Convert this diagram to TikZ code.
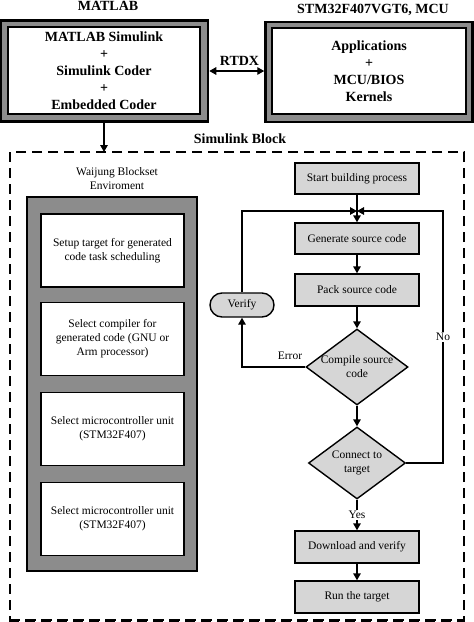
\documentclass[tikz,border=0pt]{standalone}
\usepackage{fontspec}
\setmainfont{Liberation Serif}
\usetikzlibrary{arrows.meta,shapes.geometric}
\definecolor{framegray}{HTML}{8C8C8C}
\definecolor{flowgray}{HTML}{D6D6D6}
\tikzset{
  outerframe/.style={draw=black, line width=2.5pt, fill=framegray, inner sep=0pt},
  innerbox/.style={draw=black, line width=1.4pt, fill=white, align=center, inner sep=0pt,
    font=\bfseries\fontsize{14}{17}\selectfont},
  titletext/.style={font=\bfseries\fontsize{14}{17}\selectfont, inner sep=0pt},
  smalltext/.style={font=\fontsize{11.5}{14}\selectfont, align=center},
  panelbox/.style={draw=black, line width=1.4pt, fill=white, align=center,
    minimum width=143pt, minimum height=73pt, inner sep=0pt, font=\fontsize{11.5}{14}\selectfont},
  flowbox/.style={draw=black, line width=1.4pt, fill=flowgray, align=center,
    minimum width=124pt, minimum height=31pt, inner sep=0pt, font=\fontsize{11.5}{14}\selectfont},
  flowdiamond/.style={draw=black, line width=1.4pt, fill=flowgray, diamond, inner sep=0pt},
  conn/.style={line width=1.4pt, -{Triangle[length=7pt,width=7.5pt]}},
  plainconn/.style={line width=1.4pt},
}
\begin{document}
\begin{tikzpicture}[x=1pt,y=-1pt]
\useasboundingbox (0,0) rectangle (474,622);

% top titles
\node[titletext, anchor=base] (matlabtitle) at (108,10.5) {MATLAB};
\node[titletext, anchor=base] (stmtitle) at (373,13) {STM32F407VGT6, MCU};

% top boxes
\node[outerframe, minimum width=207pt, minimum height=101pt] (matlabouter) at (104.5,71) {};
\node[innerbox, minimum width=192pt, minimum height=87pt] (matlabinner) at (104,70.5)
  {MATLAB Simulink\\+\\Simulink Coder\\+\\Embedded Coder};
\node[outerframe, minimum width=207pt, minimum height=100pt] (stmouter) at (369,72) {};
\node[innerbox, minimum width=194pt, minimum height=86pt] (stminner) at (369,71)
  {Applications\\+\\MCU/BIOS\\Kernels};

% RTDX
\node[titletext, anchor=base] (rtdx) at (239.5,65) {RTDX};
\draw[line width=1.4pt, {Triangle[length=7pt,width=7.5pt]}-{Triangle[length=7pt,width=7.5pt]}]
  (matlabouter.east |- 0,71) -- (stmouter.west |- 0,71);

% Simulink block
\node[titletext, anchor=base] (simtitle) at (240,143) {Simulink Block};
\node[draw=black, line width=1.6pt, dash pattern=on 10pt off 6pt, minimum width=454pt,
  minimum height=468pt, inner sep=0pt] (simblock) at (237,386) {};
\draw[line width=3.5pt, dash pattern=on 10pt off 6pt] (simblock.south west) -- (simblock.south east);
\draw[conn] (matlabouter.south -| 104,0) -- (104,152);

% Waijung panel
\node[smalltext] (waijungtitle) at (117,179) {Waijung Blockset\\Enviroment};
\node[draw=black, line width=1.2pt, fill=framegray, minimum width=170pt, minimum height=374pt,
  inner sep=0pt] (panel) at (112,384) {};
\node[panelbox] (setup) at (112.5,250.5) {Setup target for generated\\code task scheduling};
\node[panelbox] (compiler) at (112.5,339) {Select compiler for\\generated code (GNU or\\Arm processor)};
\node[panelbox] (mcuone) at (112.5,429) {Select microcontroller unit\\(STM32F407)};
\node[panelbox] (mcutwo) at (112.5,519) {Select microcontroller unit\\(STM32F407)};

% flowchart
\node[flowbox] (start) at (357,178.5) {Start building process};
\node[flowbox] (gen) at (357,238.5) {Generate source code};
\node[flowbox, minimum height=32pt] (pack) at (357,290) {Pack source code};
\node[flowdiamond, minimum width=102pt, minimum height=76pt,
  label={[smalltext, inner sep=0pt]center:Compile source\\code}] (compile) at (357,367) {};
\node[flowdiamond, minimum width=97pt, minimum height=72pt,
  label={[smalltext, inner sep=0pt]center:Connect to\\target}] (connect) at (357,463) {};
\node[draw=black, line width=1.4pt, fill=flowgray, rounded corners=12pt, minimum width=64pt,
  minimum height=24pt, inner sep=0pt, font=\fontsize{11.5}{14}\selectfont] (verify) at (242,305) {Verify};
\node[flowbox, minimum height=32pt] (download) at (357,547) {Download and verify};
\node[flowbox, minimum height=32pt] (run) at (357,597) {Run the target};

\coordinate (merge) at (357,211);
\coordinate (nocorner) at (443,211);

\draw[conn] (start) -- (gen);
\draw[conn] (gen) -- (pack);
\draw[conn] (pack) -- (compile);
\draw[conn] (compile) -- (connect);
\draw[conn] (download) -- (run);
\draw[conn] (connect.south) -- (download.north);
\node[smalltext, fill=white, inner sep=1pt] (yes) at (357,515) {Yes};

\draw[conn] (compile.west) -| (verify.south);
\node[smalltext, anchor=base] (error) at (290,359) {Error};
\draw[conn] (verify.north) |- (merge);
\draw[conn] (connect.east) -| (nocorner) -- (merge);
\node[smalltext, fill=white, inner sep=1pt] (no) at (443,337) {No};
\end{tikzpicture}
\end{document}
